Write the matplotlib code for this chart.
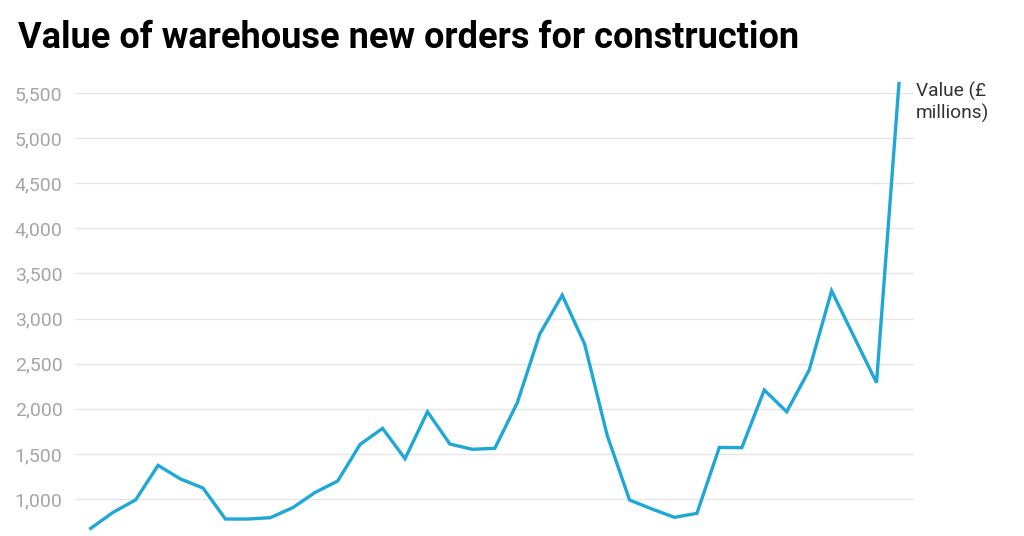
import numpy as np
import matplotlib.pyplot as plt

# values (GBP millions), one per period
values = [675, 853, 990, 1373, 1222, 1122, 778, 778, 793, 904,
          1074, 1199, 1606, 1783, 1447, 1967, 1609, 1551, 1562, 2067,
          2828, 3260, 2717, 1709, 989, 889, 797, 841, 1572, 1569,
          2208, 1967, 2429, 3308, 2798, 2289, 5606]
y_ticks = [1000, 1500, 2000, 2500, 3000, 3500, 4000, 4500, 5000, 5500]
series_label = "Value (£\nmillions)"
title = "Value of warehouse new orders for construction"

plt.rcParams['font.family'] = ['Roboto', 'DejaVu Sans']

fig = plt.figure(figsize=(10.24, 5.36), dpi=100)
ax = fig.add_axes([75 / 1024, 0, (914 - 75) / 1024, (536 - 75) / 536])

x = np.arange(len(values))
ax.plot(x, values, color='#1fa8d6', lw=2.4, solid_joinstyle='miter',
        clip_on=False, zorder=3)

ax.set_xlim(-0.7, len(values) - 1 + 0.67)
ax.set_ylim(590, 5700)
ax.set_yticks(y_ticks)
ax.set_yticklabels([f"{v:,}" for v in y_ticks])
ax.set_xticks([])
ax.grid(axis='y', color='#e6e6e6', lw=1)
ax.set_axisbelow(True)
ax.tick_params(axis='y', length=0, pad=9, labelsize=14, labelcolor='#a6a6a6')
for s in ax.spines.values():
    s.set_visible(False)

ax.annotate(series_label, xy=(x[-1], values[-1]), xytext=(12, 1),
            textcoords='offset points', ha='left', va='top',
            fontsize=13.8, color='#333333', linespacing=1.2,
            annotation_clip=False)

fig.text(18 / 1024, 1 - 38.5 / 536, title, fontsize=26, fontweight='bold',
         color='#000000', ha='left', va='center')

fig.savefig('out.png', dpi=100)
